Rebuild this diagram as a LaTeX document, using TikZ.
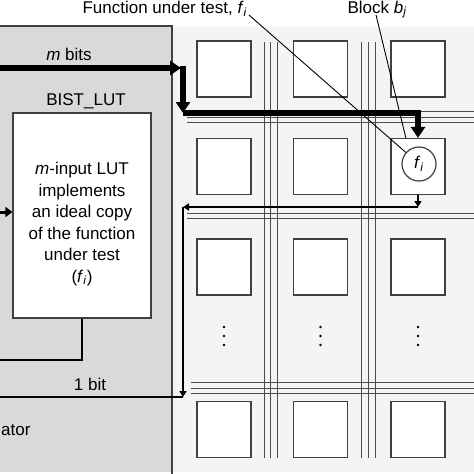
\documentclass[tikz,border=0pt]{standalone}
\usepackage{fontspec}
\setmainfont{Liberation Sans}
\usepackage{tikz}
\usetikzlibrary{positioning,calc,arrows.meta}

\definecolor{PanelGray}{gray}{0.85}
\definecolor{FieldGray}{gray}{0.955}
\definecolor{WireGray}{gray}{0.3}
\definecolor{EdgeGray}{gray}{0.25}

\begin{document}
\begin{tikzpicture}[x=1pt,y=-1pt,
  every node/.style={font=\fontsize{17}{21.5}\selectfont},
  blk/.style={draw=EdgeGray,fill=white,line width=1.2pt,minimum width=54pt,minimum height=56pt,inner sep=0pt},
  chan/.style={WireGray,line width=0.9pt},
  bus/.style={line width=5.5pt,-{Triangle[length=11pt,width=14pt]}},
  sig/.style={line width=1.5pt,-{Triangle[length=6pt,width=7pt]}},
  wire/.style={line width=1.5pt}]
\clip (0,0) rectangle (474,474);

% backgrounds
\fill[PanelGray] (0,26) rectangle (172,472);
\fill[FieldGray] (172,27) rectangle (474,472);
\draw[EdgeGray, line width=1.2pt] (0,26) -- (172,26) -- (172,474);

% routing channels
\foreach \x in {264,270,277,361,368,375} \draw[chan] (\x,42) -- (\x,458);
\foreach \y in {111,117,122,213,218} \draw[chan] (187,\y) -- (474,\y);
\foreach \y in {382,388,393} \draw[chan] (191,\y) -- (474,\y);

% logic blocks
\foreach \c/\x in {1/224,2/320.5,3/418}
  \foreach \r/\y in {1/69,2/166.5,3/267,4/429.5}
    \node[blk] (b\r\c) at (\x,\y) {};
\foreach \x in {224,320.5,418}
  \foreach \y in {327,336,345} \fill (\x,\y) circle (1.3);
\node[draw=EdgeGray,fill=white,circle,line width=1.2pt,minimum size=34pt,inner sep=0pt] (fcirc) at (419,164) {\textit{f}\textsubscript{\textit{i}}};

% BIST_LUT side
\node[anchor=base] (mbits) at (69,60) {\textit{m} bits};
\node[anchor=base] (bistlut) at (86,105) {BIST\_LUT};
\node[draw=EdgeGray,fill=white,line width=1.2pt,minimum width=138pt,minimum height=205pt,inner sep=0pt] (lut) at (82,215.5) {};
\node[align=center] (luttext) at (82,224) {\textit{m}-input LUT\\implements\\an ideal copy\\of the function\\under test\\(\textit{f}\textsubscript{\textit{i}})};
\node[anchor=base] (onebit) at (90,390) {1 bit};
\node[anchor=base west,inner sep=0pt] (cmp) at (1,435) {ator};

% annotations
\node[anchor=base west] (ftest) at (79,13.5) {Function under test, \textit{f}\textsubscript{\textit{i}}};
\node[anchor=base west] (blkj) at (344,13) {Block \textit{b}\textsubscript{\textit{j}}};
\coordinate (ftip) at (249,15);
\coordinate (btip) at (376,15);
\draw[line width=0.9pt] (ftip) -- (fcirc);
\draw[line width=0.9pt] (btip) -- ($(b23.north west)!0.28!(b23.north east)$);

% m-bit bus to the block under test
\coordinate (busin) at (0,68);
\coordinate (busa) at (181,68);
\coordinate (busd) at (183,65.5);
\coordinate (busb) at (183,113);
\coordinate (busc) at (418,113);
\draw[bus] (busin) -- (busa);
\draw[bus] (busd) -- (busb);
\draw[bus] (busb) -- (busc) -- (b23.north);

% LUT in and out
\coordinate (lutin) at (0,212);
\coordinate (lutout) at (0,360);
\draw[line width=3pt,-{Triangle[length=7pt,width=10pt]}] (lutin) -- (lut.west |- lutin);
\draw[wire] (lut.south) |- (lutout);

% 1-bit result back to the comparator
\coordinate (outa) at (418,207);
\coordinate (outb) at (183,207);
\coordinate (outc) at (183,397);
\coordinate (cmpin) at (0,397);
\draw[sig] (b23.south) -- (outa);
\draw[sig] (outa) -- (outb);
\draw[sig] (outb) -- (outc);
\draw[wire] (outc) -- (cmpin);
\end{tikzpicture}
\end{document}
